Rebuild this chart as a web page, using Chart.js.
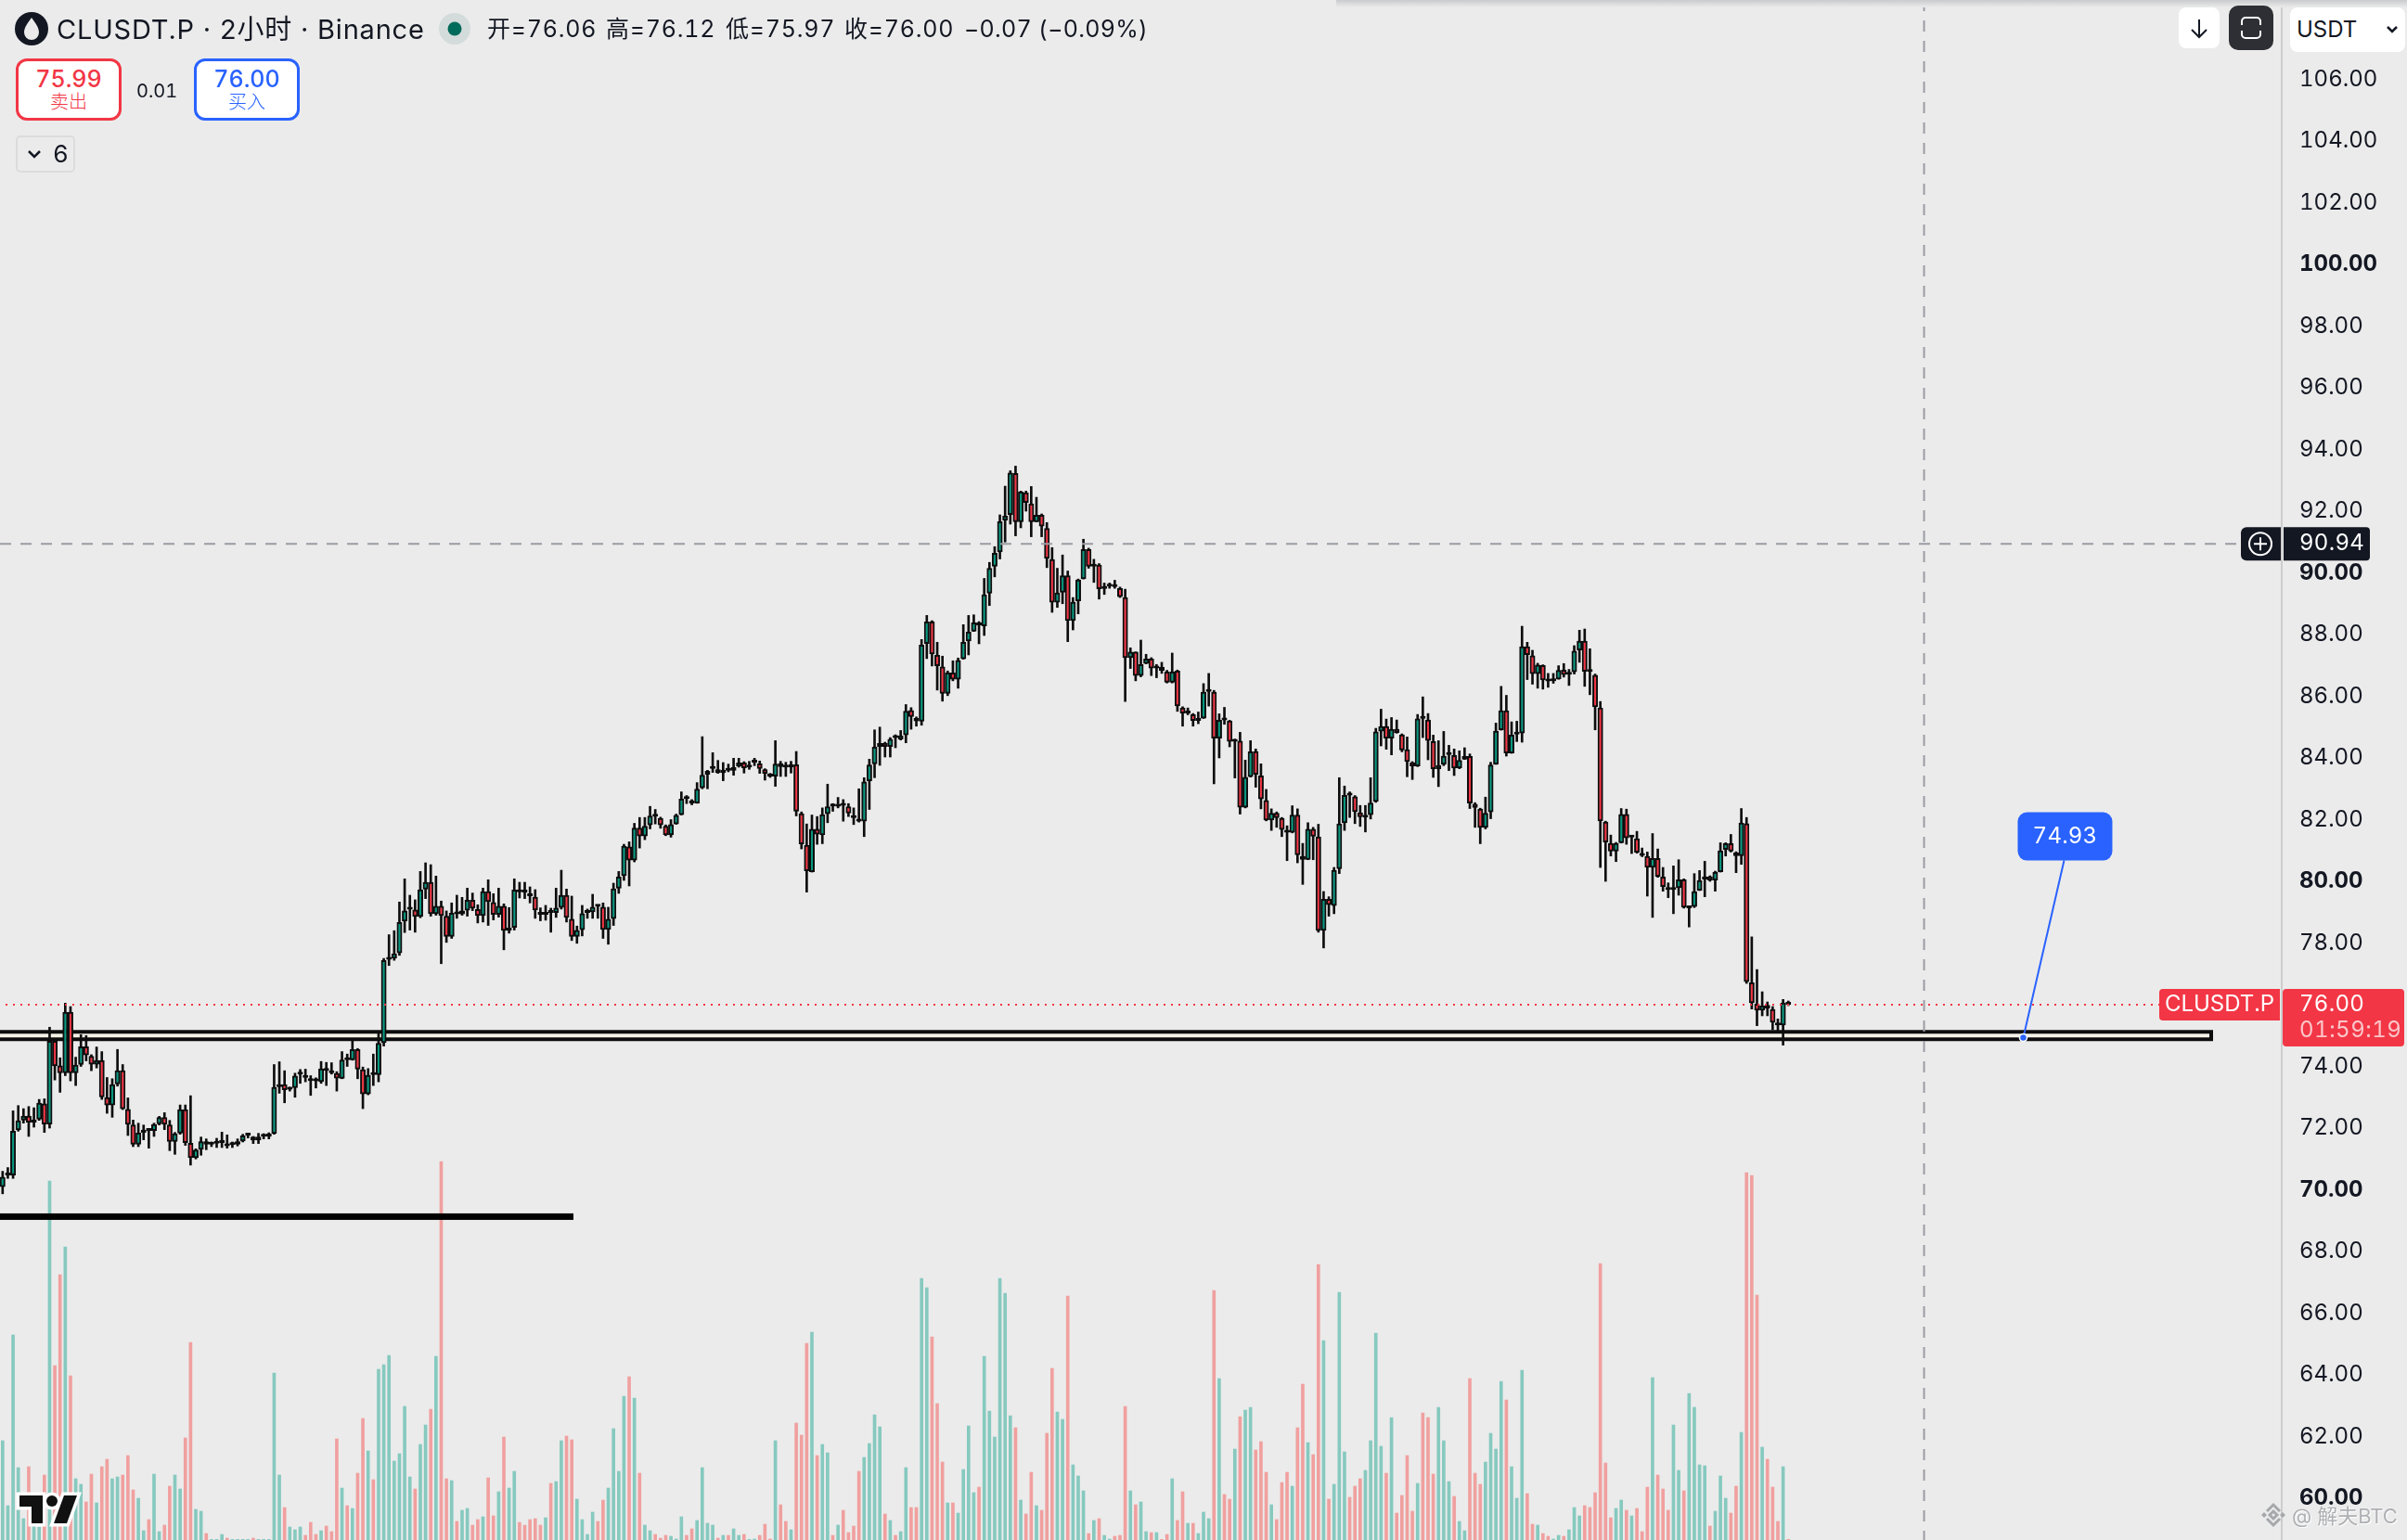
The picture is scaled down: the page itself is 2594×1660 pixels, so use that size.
<!DOCTYPE html>
<html lang="zh">
<head>
<meta charset="utf-8">
<title>CLUSDT.P</title>
<script src="https://cdn.jsdelivr.net/npm/chart.js@4"></script>
<style>
html, body { margin: 0; padding: 0; background: #ebebeb; }
body { width: 2594px; height: 1660px; overflow: hidden; position: relative; font-family: Inter, "Noto Sans CJK SC", sans-serif; font-variant-numeric: tabular-nums; color: #131722; }
canvas { position: absolute; left: 0; top: 0; }
.abs { position: absolute; white-space: nowrap; }
.topshade { left: 1440px; top: 0; width: 1154px; height: 8px; background: linear-gradient(#c9cbcc, #ebebeb); }
.title { left: 61px; top: 13px; font-size: 29px; line-height: 37px; letter-spacing: 0.8px; font-variant-numeric: normal; }
.ohlc { top: 16px; font-size: 25px; line-height: 31px; letter-spacing: 0.8px; }
.btn { box-sizing: border-box; width: 114px; height: 67px; top: 63px; background: #fff; border: 3px solid; border-radius: 12px; text-align: center; }
.btn b { display: block; font-size: 25px; line-height: 26px; margin-top: 6px; font-weight: 500; }
.btn span { display: block; font-size: 20px; line-height: 24px; font-weight: 300; }
.sell { left: 17px; color: #f23645; border-color: #f23645; }
.buy { left: 209px; color: #2962ff; border-color: #2962ff; }
.spread { left: 147px; top: 85px; font-size: 20px; line-height: 26px; }
.count { left: 17px; top: 146px; width: 64px; height: 40px; box-sizing: border-box; border: 2px solid #dcdcdc; border-radius: 5px; }
.count span { position: absolute; left: 38px; top: 2px; font-size: 26px; line-height: 32px; }
.wm { left: 2470px; top: 1620px; font-size: 22px; line-height: 28px; color: rgba(120,124,128,.6); text-shadow: 0 0 2px #fff, 1px 1px 1px #fff; }
</style>
</head>
<body>
<canvas id="chart" width="2594" height="1660"></canvas>
<div class="abs topshade"></div>

<svg class="abs" style="left:15px;top:12px" width="38" height="38" viewBox="0 0 38 38">
  <circle cx="19" cy="19" r="18" fill="#131722"/>
  <path d="M19 7 C24 14 27 18 27 23 A8 8 0 0 1 11 23 C11 18 14 14 19 7 Z" fill="#ebebeb"/>
</svg>
<div class="abs title">CLUSDT.P · 2小时 · Binance</div>
<svg class="abs" style="left:473px;top:14px" width="34" height="34">
  <circle cx="17" cy="17" r="17" fill="#d3dbdb"/><circle cx="17" cy="17" r="7.5" fill="#006b5b"/>
</svg>
<div class="abs ohlc" style="left:525px">开=76.06</div>
<div class="abs ohlc" style="left:653px">高=76.12</div>
<div class="abs ohlc" style="left:782px">低=75.97</div>
<div class="abs ohlc" style="left:910px">收=76.00</div>
<div class="abs ohlc" style="left:1039px;letter-spacing:0.3px">−0.07 (−0.09%)</div>

<div class="abs btn sell"><b>75.99</b><span>卖出</span></div>
<div class="abs spread">0.01</div>
<div class="abs btn buy"><b>76.00</b><span>买入</span></div>
<div class="abs count">
  <svg style="position:absolute;left:9px;top:12px" width="18" height="12"><path d="M3 3 L9 9 L15 3" fill="none" stroke="#131722" stroke-width="2.5"/></svg>
  <span>6</span>
</div>

<div class="abs" style="left:2348px;top:8px;width:44px;height:44px;background:#fff;border-radius:8px"></div>
<svg class="abs" style="left:2348px;top:8px" width="44" height="44">
  <path d="M22 13 V32 M14 24 L22 32 L30 24" fill="none" stroke="#131722" stroke-width="2"/>
</svg>
<div class="abs" style="left:2402px;top:6px;width:48px;height:48px;background:#2e2f34;border-radius:10px"></div>
<svg class="abs" style="left:2402px;top:6px" width="48" height="48">
  <path d="M14 21 V17 A4 4 0 0 1 18 13 H30 A4 4 0 0 1 34 17 V21 M14 27 V31 A4 4 0 0 0 18 35 H30 A4 4 0 0 0 34 31 V27" fill="none" stroke="#fff" stroke-width="2"/>
</svg>
<div class="abs" style="left:2468px;top:8px;width:124px;height:48px;background:#fff;border-radius:8px"></div>
<div class="abs" style="left:2475px;top:16px;font-size:24px;line-height:32px">USDT</div>
<svg class="abs" style="left:2570px;top:26px" width="16" height="12"><path d="M3 3 L8 8 L13 3" fill="none" stroke="#131722" stroke-width="2.5"/></svg>

<svg class="abs" style="left:14px;top:1604px" width="78" height="46" viewBox="14 1604 78 46">
  <g fill="#111" stroke="#fff" stroke-width="7" paint-order="stroke" stroke-linejoin="miter">
    <path d="M21 1612 H46 V1642 H34 V1624 H21 Z"/>
    <circle cx="56" cy="1618" r="6"/>
    <path d="M69 1612 H83 L72 1642 H58 Z"/>
  </g>
</svg>

<svg class="abs" style="left:2435px;top:1618px" width="30" height="30" viewBox="0 0 30 30">
  <g fill="none" stroke="#a6a8ab" stroke-width="3">
    <path d="M8 11 L15 4 L22 11"/><path d="M8 19 L15 26 L22 19"/><path d="M11 15 L15 11 L19 15 L15 19 Z"/>
  </g>
  <path d="M2 15 L5 12 L8 15 L5 18 Z M22 15 L25 12 L28 15 L25 18 Z" fill="#a6a8ab"/>
</svg>
<div class="abs wm">@ 解夫BTC</div>

<script>
(function candles () {
    'use strict';

    var opens = [
        70.09,70.47,70.47,71.93,72.25,72.40,72.18,72.28,72.80,72.12,
        74.83,74.03,73.78,75.77,73.78,74.05,74.65,74.34,74.06,74.20,
        73.00,72.74,73.42,73.87,72.62,72.11,71.47,71.85,71.95,71.91,
        72.13,72.35,72.11,71.56,71.83,72.61,71.52,71.03,71.30,71.57,
        71.47,71.50,71.52,71.50,71.45,71.47,71.57,71.76,71.72,71.60,
        71.72,71.72,71.82,73.33,73.42,73.25,73.30,73.74,73.72,73.62,
        73.54,73.50,73.95,73.84,73.78,73.60,74.23,74.20,74.56,73.90,
        73.10,73.75,73.72,74.76,77.46,77.50,77.67,78.70,79.08,79.08,
        78.85,79.74,79.98,78.94,79.20,78.88,78.20,79.00,78.93,79.05,
        79.40,79.10,78.88,79.68,79.32,78.92,79.20,78.40,78.50,79.73,
        79.66,79.60,79.50,79.00,78.92,79.00,78.98,79.14,79.56,78.78,
        78.20,78.42,78.98,79.00,79.20,79.17,78.43,78.78,79.77,80.17,
        81.13,80.68,81.74,81.46,81.82,82.13,82.05,81.80,81.50,81.85,
        82.15,82.70,82.60,82.53,83.02,83.46,83.65,83.63,83.51,83.61,
        83.59,83.72,83.85,83.69,83.85,83.82,83.63,83.47,83.40,83.83,
        83.71,83.69,83.79,82.20,81.18,80.30,81.70,81.50,82.18,82.46,
        82.42,82.47,82.43,82.14,82.02,81.94,83.25,83.80,84.36,84.49,
        84.36,84.67,84.60,84.74,85.55,85.29,85.18,87.70,88.42,87.34,
        86.96,86.08,86.77,86.54,87.20,87.78,88.10,88.39,88.27,89.33,
        90.20,90.67,91.70,91.88,93.23,91.65,92.61,92.25,91.65,91.88,
        91.45,90.44,89.04,89.36,89.92,88.44,89.08,89.80,90.77,90.20,
        90.26,89.48,89.56,89.62,89.50,89.21,87.24,87.44,86.66,87.05,
        87.22,86.90,86.95,86.80,86.44,86.83,85.63,85.44,85.41,85.20,
        85.28,86.14,86.14,84.63,85.25,85.21,84.53,84.56,82.39,83.38,
        84.22,83.43,82.63,81.98,82.22,82.05,81.65,81.58,82.16,80.82,
        80.70,81.70,81.45,78.40,79.43,79.20,80.40,81.89,82.80,82.75,
        82.23,82.07,82.15,82.58,84.86,85.03,84.63,84.94,84.76,84.28,
        83.86,83.73,85.29,85.24,84.54,83.64,83.78,84.10,84.09,83.67,
        83.95,84.06,82.51,82.35,81.74,82.24,83.79,84.90,85.54,84.15,
        84.76,84.80,87.62,87.32,86.72,87.01,86.52,86.49,86.55,86.86,
        86.70,86.78,87.49,87.80,86.81,86.69,85.63,81.93,81.24,80.97,
        81.24,82.18,81.42,81.39,80.90,80.82,80.44,80.75,80.15,79.78,
        79.72,79.78,80.06,79.13,79.17,79.70,80.06,80.16,80.03,80.30,
        81.02,81.23,80.93,80.82,81.88,76.72,76.03,75.81,75.99,75.86,
        75.41,75.33,76.06
    ];
    var highs = [
        70.60,70.72,72.56,72.73,72.63,72.70,72.66,72.93,72.95,75.27,
        74.90,74.28,76.05,75.94,74.30,75.03,75.00,74.38,74.63,74.48,
        73.64,73.60,74.55,74.06,72.98,72.26,72.16,72.10,71.97,72.16,
        72.38,72.50,72.25,71.86,72.75,72.75,73.05,71.33,71.71,71.65,
        71.55,71.67,71.87,71.78,71.55,71.65,71.80,71.84,71.73,71.83,
        71.82,71.85,74.06,74.15,73.86,73.33,73.78,73.90,73.91,73.70,
        73.63,74.16,74.13,74.12,73.83,74.48,74.40,74.91,74.58,73.98,
        73.93,74.40,75.08,77.50,78.27,78.40,79.33,80.08,79.55,79.40,
        80.32,80.60,80.54,80.17,79.36,79.04,79.30,79.55,79.48,79.78,
        79.62,79.24,79.78,80.05,79.60,79.78,79.27,79.15,80.08,79.97,
        79.97,79.82,79.73,79.14,79.22,79.13,79.78,80.36,79.75,79.52,
        78.55,79.22,79.10,79.58,79.24,79.30,79.16,79.94,80.32,81.20,
        81.28,81.88,82.07,82.07,82.43,82.33,82.08,81.83,82.00,82.18,
        82.90,82.78,82.65,83.20,84.69,83.60,84.17,83.92,83.85,83.80,
        83.99,83.99,83.88,83.89,83.99,83.90,83.65,83.50,84.56,83.89,
        83.86,83.89,84.21,82.25,81.86,82.15,82.10,82.38,83.15,82.52,
        82.72,82.65,82.52,82.38,83.00,83.36,83.96,84.91,85.00,84.51,
        84.66,84.75,84.89,85.73,85.63,85.33,87.84,88.62,88.45,87.75,
        87.30,86.82,87.15,87.24,88.32,88.62,88.64,88.42,89.82,90.34,
        90.85,91.88,92.81,93.31,93.46,92.65,92.65,92.80,92.45,91.91,
        91.63,90.82,90.15,90.58,90.06,89.20,89.80,91.09,90.80,90.44,
        90.30,89.67,89.67,89.76,89.54,89.47,87.57,87.44,87.82,87.36,
        87.25,87.03,87.10,86.84,87.40,86.85,85.66,85.62,85.44,85.49,
        86.41,86.74,86.19,85.43,85.64,85.22,84.61,84.83,83.93,84.56,
        84.29,83.81,82.98,82.35,82.25,82.07,81.80,82.45,82.35,81.23,
        81.90,81.75,81.85,79.67,79.50,80.45,83.36,83.09,82.90,82.78,
        82.46,82.46,83.36,84.96,85.58,85.26,85.31,85.23,84.78,84.68,
        83.88,85.41,85.98,85.44,84.74,84.56,84.86,84.41,84.29,84.23,
        84.33,84.13,82.55,82.37,82.73,83.86,85.13,86.32,86.03,85.17,
        85.19,88.27,87.75,87.49,87.07,87.02,86.74,86.74,86.99,87.06,
        86.87,87.64,88.14,88.18,87.54,86.72,85.83,81.95,81.50,81.26,
        82.36,82.34,81.48,81.62,81.08,80.95,81.55,81.05,80.45,79.95,
        80.50,80.70,80.08,79.20,80.25,80.35,80.65,80.18,80.33,81.25,
        81.25,81.52,80.96,82.36,82.07,78.20,77.14,76.42,76.09,75.94,
        75.54,76.17,76.12
    ];
    var lows = [
        69.87,70.37,70.37,71.90,72.16,71.73,72.03,72.25,71.86,72.00,
        73.56,73.16,73.70,73.53,73.38,74.00,74.18,73.86,73.95,72.93,
        72.48,72.35,73.36,72.60,71.76,71.40,71.40,71.62,71.35,71.73,
        72.10,71.95,71.27,71.15,71.80,71.44,70.80,71.00,71.12,71.30,
        71.40,71.37,71.37,71.35,71.37,71.42,71.55,71.68,71.50,71.50,
        71.65,71.65,71.80,73.13,72.82,73.20,73.00,73.45,73.50,73.06,
        73.30,73.45,73.38,73.75,73.20,73.60,74.00,74.20,73.60,72.63,
        73.08,73.38,73.50,74.66,77.27,77.44,77.60,78.34,78.42,78.35,
        78.82,79.44,78.87,78.90,77.33,78.02,78.15,78.80,78.90,78.87,
        79.05,78.65,78.68,78.57,78.75,78.84,77.78,78.32,78.42,79.46,
        79.44,79.30,78.80,78.72,78.74,78.35,78.83,79.10,78.68,78.08,
        77.99,78.23,78.80,78.80,78.80,78.15,77.96,78.57,79.61,80.03,
        79.85,80.63,81.08,81.35,81.70,81.86,81.72,81.48,81.43,81.85,
        82.15,82.52,82.48,82.53,83.00,83.00,83.53,83.50,83.26,83.55,
        83.44,83.70,83.51,83.63,83.75,83.50,83.28,83.37,83.08,83.40,
        83.40,83.51,82.12,81.05,79.65,80.30,81.20,81.22,81.90,82.27,
        82.38,81.95,82.10,81.84,81.92,81.45,82.33,83.36,83.76,84.03,
        84.03,84.33,84.58,84.49,84.93,85.03,85.06,87.22,86.98,86.20,
        85.84,86.02,86.50,86.26,87.20,87.34,88.10,87.70,87.97,88.94,
        89.87,90.45,91.00,91.58,91.20,91.46,92.00,91.17,91.65,91.17,
        90.17,88.72,88.88,89.00,87.77,88.15,88.67,89.80,90.15,89.69,
        89.15,89.30,89.50,89.50,89.20,85.83,86.90,86.50,86.63,87.05,
        86.67,86.60,86.74,86.43,86.43,85.51,85.03,85.40,85.03,85.11,
        85.28,85.68,83.16,84.00,85.09,84.36,83.35,82.18,82.38,83.38,
        83.05,82.35,81.96,81.65,81.75,81.45,80.67,81.57,80.60,79.90,
        80.70,80.70,78.35,77.84,78.87,78.95,80.25,81.65,82.07,81.87,
        81.78,81.60,82.02,82.56,84.39,84.28,84.10,84.80,84.20,83.39,
        83.30,83.72,84.66,83.94,83.37,83.07,83.75,83.59,83.43,83.65,
        83.95,82.36,81.75,81.22,81.70,82.03,83.79,84.90,84.06,84.15,
        84.53,84.51,86.54,86.39,86.26,86.23,86.29,86.42,86.55,86.62,
        86.35,86.72,87.10,86.32,86.05,84.91,80.45,80.00,80.82,80.64,
        81.24,81.20,80.90,80.91,80.80,79.52,78.83,80.13,79.68,79.47,
        78.95,79.55,79.13,78.52,79.15,79.70,79.50,80.00,79.68,80.30,
        80.82,80.95,80.28,80.55,76.69,75.86,75.32,75.64,75.64,75.19,
        75.13,74.69,75.97
    ];
    var closes = [
        70.42,70.50,71.91,72.25,72.40,72.18,72.28,72.82,72.12,74.83,
        74.01,73.78,75.77,73.78,74.05,74.65,74.36,74.06,74.20,73.00,
        72.74,73.42,73.87,72.62,72.11,71.47,71.85,71.95,71.91,72.13,
        72.35,72.11,71.56,71.83,72.61,71.52,71.03,71.30,71.57,71.47,
        71.50,71.52,71.54,71.41,71.47,71.57,71.76,71.77,71.60,71.72,
        71.75,71.82,73.33,73.42,73.23,73.30,73.70,73.76,73.63,73.53,
        73.52,73.93,73.86,73.78,73.61,74.22,74.20,74.56,73.90,73.10,
        73.72,73.72,74.76,77.44,77.50,77.66,78.68,79.05,79.12,78.85,
        79.74,79.98,78.94,79.20,78.88,78.20,78.98,78.93,79.05,79.40,
        79.12,78.88,79.68,79.33,78.92,79.20,78.40,78.50,79.73,79.65,
        79.64,79.52,79.06,78.92,79.00,78.98,79.14,79.56,78.82,78.20,
        78.42,78.96,79.00,79.17,79.18,78.43,78.78,79.77,80.15,81.15,
        80.68,81.74,81.46,81.80,82.13,82.10,81.82,81.50,81.85,82.15,
        82.68,82.67,82.53,83.00,83.45,83.58,83.67,83.51,83.61,83.59,
        83.71,83.85,83.67,83.74,83.86,83.65,83.49,83.40,83.81,83.71,
        83.69,83.79,82.26,81.20,80.33,81.70,81.52,82.17,82.43,82.43,
        82.46,82.45,82.20,82.05,81.94,83.23,83.78,84.36,84.48,84.36,
        84.62,84.65,84.73,85.53,85.33,85.19,87.67,88.42,87.36,86.98,
        86.08,86.77,86.54,87.17,87.76,88.09,88.39,88.29,89.30,90.16,
        90.65,91.67,91.85,93.25,91.65,92.63,92.27,91.65,91.88,91.50,
        90.46,89.04,89.36,89.92,88.44,89.06,89.78,90.77,90.20,90.24,
        89.47,89.54,89.58,89.54,89.22,87.24,87.44,86.66,87.04,87.22,
        86.90,86.96,86.83,86.44,86.80,85.68,85.44,85.46,85.20,85.28,
        86.14,86.17,84.63,85.23,85.22,84.53,84.60,82.39,83.38,84.21,
        83.46,82.66,81.98,82.22,82.05,81.67,81.58,82.16,80.85,80.70,
        81.70,81.45,78.40,79.43,79.23,80.37,81.87,82.80,82.78,82.25,
        82.08,82.11,82.55,84.86,85.03,84.63,84.94,84.81,84.25,83.87,
        83.73,85.28,85.27,84.56,83.64,83.77,84.07,84.12,83.66,83.93,
        84.06,82.53,82.38,81.74,82.22,83.78,84.88,85.54,84.15,84.75,
        84.80,87.62,87.34,86.72,87.02,86.52,86.48,86.53,86.85,86.69,
        86.76,87.47,87.80,86.80,86.79,85.65,81.95,81.26,80.97,81.24,
        82.18,81.40,81.46,80.93,80.83,80.44,80.75,80.15,79.82,79.72,
        79.76,80.06,79.15,79.17,79.68,80.04,80.16,80.03,80.30,81.00,
        81.23,80.97,80.82,81.90,76.74,76.05,75.81,75.97,75.87,75.42,
        75.33,76.07,76.00
    ];
    var volumes = [
        321,111,663,234,69,237,45,42,210,1161,
        564,858,948,531,198,180,123,213,120,237,
        261,198,204,210,273,162,135,30,66,213,
        27,48,174,210,165,330,639,99,93,21,
        2,2,18,6,2,2,2,2,6,2,
        2,2,540,210,105,42,33,42,15,57,
        18,30,45,27,327,168,111,102,216,393,
        288,195,552,567,597,255,279,432,204,165,
        309,372,423,594,1224,198,192,60,96,102,
        48,66,75,201,78,156,333,168,222,57,
        48,66,69,48,72,183,189,321,336,324,
        132,66,18,90,60,129,168,360,222,465,
        528,459,216,48,30,18,6,15,12,3,
        75,15,36,63,234,54,48,6,15,15,
        36,15,18,2,3,15,51,3,321,114,
        60,33,378,339,636,672,273,309,282,15,
        48,96,24,45,222,267,312,405,366,84,
        63,15,27,234,105,105,846,816,657,441,
        252,120,120,87,228,369,153,171,594,417,
        333,846,798,402,363,129,84,219,111,96,
        345,555,414,390,789,243,207,159,21,63,
        69,15,3,12,15,432,159,114,123,27,
        24,24,2,18,198,63,156,54,54,21,
        90,69,807,522,147,132,294,399,420,429,
        291,318,219,114,66,186,219,174,363,504,
        315,276,891,645,132,180,801,285,138,174,
        198,225,321,669,303,216,396,87,144,273,
        93,183,411,396,213,429,321,189,141,60,
        30,522,216,180,252,345,294,513,453,237,
        135,549,150,51,48,21,12,3,15,12,
        33,105,78,111,105,153,894,249,72,102,
        129,96,78,102,27,171,525,210,165,96,
        372,225,159,474,429,243,240,45,93,207,
        135,87,174,348,1188,1179,792,300,261,171,
        60,237,2
    ];
    var priceTicks = [60, 62, 64, 66, 68, 70, 72, 74, 76, 78, 80, 82, 84, 86, 88, 90, 92, 94, 96, 98, 100, 102, 104, 106];
    var lastPrice = 76.00;
    var countdown = '01:59:19';
    var symbol = 'CLUSDT.P';
    var crossPrice = 90.94;
    var crossSlot = 368;
    var zonePrice = 75.00;
    var supportPrice = 69.13;
    var notePrice = 74.93;
    var noteSlot = 387;

    var slots = 437;
    var categories = [];
    var i;
    for (i = 0; i < slots; i++) {
        categories.push(i);
    }

    var up = '#089981';
    var down = '#f23645';
    var wicks = opens.map(function (o, n) { return [lows[n], highs[n]]; });
    var bodies = opens.map(function (o, n) { return [Math.min(o, closes[n]), Math.max(o, closes[n])]; });
    var bodyColors = opens.map(function (o, n) { return closes[n] >= o ? up : down; });
    var volumeColors = opens.map(function (o, n) { return closes[n] >= o ? '#86c9bf' : '#f0a09f'; });

    function tag(ctx, x, y, w, h, r, color) {
        ctx.fillStyle = color;
        ctx.beginPath();
        ctx.roundRect(x, y, w, h, r);
        ctx.fill();
    }

    function text(ctx, str, x, y, font, color, align, spacing) {
        ctx.letterSpacing = spacing || '0px';
        ctx.font = font;
        ctx.fillStyle = color;
        ctx.textAlign = align || 'left';
        ctx.textBaseline = 'middle';
        ctx.fillText(str, x, y);
    }

    // zone and support lines go over the volume bars but under the candles
    var drawings = {
        id: 'drawings',
        afterDatasetDraw: function (chart, args) {
            if (args.index !== 0) {
                return;
            }
            var ctx = chart.ctx;
            var y = chart.scales.y;
            var zone = y.getPixelForValue(zonePrice);
            ctx.save();
            ctx.fillStyle = '#f3f1e6';
            ctx.fillRect(0, zone - 6, 2385, 12);
            ctx.strokeStyle = '#0d0d0d';
            ctx.lineWidth = 4;
            ctx.strokeRect(-4, zone - 4, 2387, 8);
            ctx.fillStyle = '#000';
            ctx.fillRect(0, y.getPixelForValue(supportPrice) - 3.5, 618, 7);
            ctx.restore();
        },
        afterDraw: function (chart) {
            var ctx = chart.ctx;
            var x = chart.scales.x;
            var y = chart.scales.y;
            var area = chart.chartArea;
            var labelFont = '24px Inter, sans-serif';
            var lastY = y.getPixelForValue(lastPrice);
            var crossY = y.getPixelForValue(crossPrice);
            var crossX = x.getPixelForValue(crossSlot);
            var noteX = x.getPixelForValue(noteSlot);
            var noteY = y.getPixelForValue(notePrice);

            ctx.save();
            // last price dotted line
            ctx.strokeStyle = down;
            ctx.lineWidth = 2;
            ctx.setLineDash([2, 6]);
            ctx.beginPath();
            ctx.moveTo(6, lastY);
            ctx.lineTo(2327, lastY);
            ctx.stroke();

            // crosshair
            ctx.strokeStyle = '#9b9ca3';
            ctx.setLineDash([12, 10]);
            ctx.beginPath();
            ctx.moveTo(0, crossY);
            ctx.lineTo(area.right, crossY);
            ctx.moveTo(crossX, 0);
            ctx.lineTo(crossX, area.bottom);
            ctx.stroke();
            ctx.setLineDash([]);

            // price note bubble and its leader
            ctx.strokeStyle = '#2962ff';
            ctx.lineWidth = 2;
            ctx.beginPath();
            ctx.moveTo(noteX + 44, noteY - 191);
            ctx.lineTo(noteX, noteY);
            ctx.stroke();
            tag(ctx, noteX - 6, noteY - 243, 102, 52, 10, '#2962ff');
            text(ctx, notePrice.toFixed(2), noteX + 45, noteY - 217, labelFont, '#fff', 'center', '0.2px');
            ctx.beginPath();
            ctx.arc(noteX, noteY, 4, 0, Math.PI * 2);
            ctx.fillStyle = '#2962ff';
            ctx.fill();
            ctx.strokeStyle = '#fff';
            ctx.lineWidth = 1.5;
            ctx.stroke();

            // last price tags
            tag(ctx, 2327, lastY - 17, 130, 34, [4, 0, 0, 4], down);
            text(ctx, symbol, 2392, lastY, labelFont, '#fff', 'center');
            tag(ctx, 2460, lastY - 17, 131, 62, 4, down);
            text(ctx, lastPrice.toFixed(2), 2478, lastY, labelFont, '#fff', 'left', '0.3px');
            text(ctx, countdown, 2478, lastY + 28, labelFont, '#fbc5c9', 'left', '0.5px');

            // crosshair tags
            tag(ctx, 2415, crossY - 18, 43, 36, [6, 0, 0, 6], '#131722');
            ctx.strokeStyle = '#fff';
            ctx.lineWidth = 2;
            ctx.beginPath();
            ctx.arc(2436, crossY, 12, 0, Math.PI * 2);
            ctx.moveTo(2429, crossY);
            ctx.lineTo(2443, crossY);
            ctx.moveTo(2436, crossY - 7);
            ctx.lineTo(2436, crossY + 7);
            ctx.stroke();
            tag(ctx, 2461, crossY - 18, 93, 36, [0, 4, 4, 0], '#131722');
            text(ctx, crossPrice.toFixed(2), 2478, crossY, labelFont, '#fff', 'left', '0.3px');
            ctx.restore();
        }
    };

    new Chart(document.getElementById('chart').getContext('2d'), {
        type: 'bar',
        data: {
            labels: categories,
            datasets: [{
                data: volumes,
                yAxisID: 'vol',
                backgroundColor: volumeColors,
                barThickness: 3,
                order: 3
            }, {
                data: wicks,
                yAxisID: 'y',
                backgroundColor: '#0d0d0d',
                barThickness: 2,
                order: 2
            }, {
                data: bodies,
                yAxisID: 'y',
                backgroundColor: bodyColors,
                borderColor: '#0d0d0d',
                borderWidth: 2,
                borderSkipped: false,
                barThickness: 6,
                minBarLength: 3,
                inflateAmount: 0,
                order: 1
            }]
        },
        options: {
            responsive: false,
            animation: false,
            devicePixelRatio: 1,
            events: [],
            datasets: { bar: { grouped: false } },
            layout: { padding: 0, autoPadding: false },
            plugins: { legend: { display: false }, tooltip: { enabled: false } },
            scales: {
                x: { display: false, stacked: false },
                vol: { display: false, min: 0, max: 4980 },
                y: {
                    position: 'right',
                    min: 58.647,
                    max: 108.571,
                    afterFit: function (axis) {
                        axis.width = 135;
                        axis.paddingTop = 0;
                        axis.paddingBottom = 0;
                    },
                    afterBuildTicks: function (axis) {
                        axis.ticks = priceTicks.map(function (v) { return { value: v }; });
                    },
                    grid: { display: false, drawTicks: false },
                    border: { color: '#cdcdcd', width: 2 },
                    ticks: {
                        padding: 19,
                        autoSkip: false,
                        maxRotation: 0,
                        color: '#131722',
                        font: function (c) {
                            var v = c.tick && c.tick.value;
                            return { family: 'Inter, sans-serif', size: 24, weight: v % 10 === 0 ? '700' : '400' };
                        },
                        callback: function (v) { return Number(v).toFixed(2); }
                    }
                }
            }
        },
        plugins: [drawings]
    });
}());
</script>
</body>
</html>
